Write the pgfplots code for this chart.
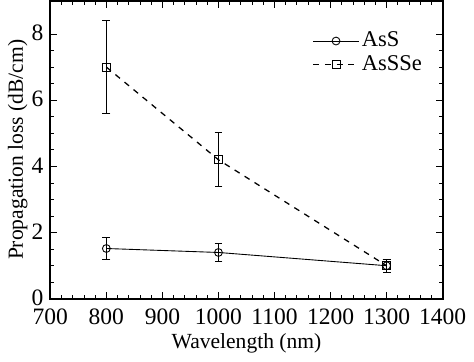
\documentclass[border=0pt]{standalone}
\usepackage{fontspec}
\setmainfont{Liberation Serif}
\usepackage{pgfplots}
\pgfplotsset{compat=1.18}
\begin{document}
\fontsize{24}{28}\selectfont
\begin{tikzpicture}
\begin{axis}[
  scale only axis,
  width=399bp, height=303bp,
  xmin=700, xmax=1400, ymin=0, ymax=9,
  xtick={700,800,...,1400},
  ytick={0,2,4,6,8},
  minor x tick num=4,
  minor y tick num=3,
  tick align=inside,
  major tick length=7bp,
  minor tick length=4bp,
  axis line style={line width=1.8pt},
  every tick/.style={black, line width=0.9pt},
  xticklabel style={font=\fontsize{24}{28}\selectfont, yshift=-2bp},
  yticklabel style={font=\fontsize{24}{28}\selectfont, xshift=1bp, yshift=1bp},
  /pgf/number format/assume math mode=true,
  /pgf/number format/1000 sep={},
  xlabel={Wavelength (nm)},
  ylabel={Propagation loss (dB/cm)},
  label style={font=\fontsize{22}{26}\selectfont},
  xlabel style={yshift=7bp},
  ylabel style={yshift=-12bp},
  legend style={draw=none, fill=none, at={(0.96,0.91)}, anchor=north east, font=\fontsize{23}{26}\selectfont, row sep=1pt},
  legend cell align=left,
  legend image code/.code={\draw[#1] (0cm,0cm) -- (1.65cm,0cm); \draw[#1, mark repeat=1] plot coordinates {(0.82cm,0cm)};},
]
\addplot[black, line width=0.9pt, mark=o, mark size=4pt, mark options={solid, line width=0.9pt},
  error bars/.cd, y dir=both, y explicit, error bar style={line width=1pt}, error mark options={rotate=90, mark size=4pt, line width=1pt}]
  coordinates {(800,1.52) +- (0,0.32) (1000,1.40) +- (0,0.27) (1300,1.0) +- (0,0.2)};
\addlegendentry{AsS}
\addplot[black, line width=1.3pt, dash pattern=on 6pt off 6pt, mark=square, mark size=4pt, mark options={solid, line width=0.9pt},
  error bars/.cd, y dir=both, y explicit, error bar style={line width=1pt, solid}, error mark options={rotate=90, mark size=4pt, line width=1pt, solid}]
  coordinates {(800,7.0) +- (0,1.4) (1000,4.2) +- (0,0.82) (1300,1.0) +- (0,0.2)};
\addlegendentry{AsSSe}
\end{axis}
\end{tikzpicture}
\end{document}
